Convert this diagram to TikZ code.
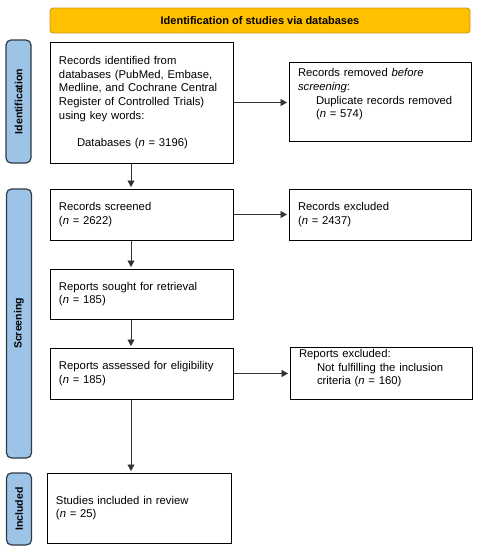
\documentclass[tikz,border=0pt]{standalone}
\usepackage{fontspec}
\setmainfont{Liberation Sans}
\usetikzlibrary{arrows.meta,positioning,calc}

\definecolor{headgold}{HTML}{FFC000}
\definecolor{headedge}{HTML}{C8961E}
\definecolor{phaseblue}{HTML}{9DC3E6}
\definecolor{phaseedge}{HTML}{2E3A46}

\begin{document}
\begin{tikzpicture}[
    x=1pt, y=-1pt,
    >={Triangle[length=6.5pt,width=7pt]},
    header/.style={rectangle, rounded corners=3pt, draw=headedge, fill=headgold, line width=0.8pt, minimum width=420pt, minimum height=25pt, inner sep=0pt, font=\fontsize{11}{13}\selectfont\bfseries},
    phase/.style={rectangle, rounded corners=5pt, draw=phaseedge, fill=phaseblue, line width=1.2pt, minimum height=25pt, inner sep=0pt, rotate=90, font=\fontsize{10.5}{12}\selectfont\bfseries},
    record/.style={rectangle, draw, line width=1pt, minimum width=183pt, text width=165pt, inner sep=0pt, align=left, font=\fontsize{11.3}{13.7}\selectfont},
    flow/.style={->, draw=black!80, line width=0.7pt, shorten >=1.5pt}
]
\useasboundingbox (0,0) rectangle (479,550);

% Header
\node[header] (head) at (260,20.5) {Identification of studies via databases};

% Phase labels
\node[phase, minimum width=123pt] (ident) at (18.5,101.5) {Identification};
\node[phase, minimum width=269pt] (screen) at (19,323.5) {Screening};
\node[phase, minimum width=72pt] (incl) at (19,509) {Included};

% Records
\node[record, minimum height=121pt] (found) at (141.5,102.5) {Records identified from\\
databases (PubMed, Embase,\\
Medline, and Cochrane Central\\
Register of Controlled Trials)\\
using key words:\\[13.7pt]
\hspace*{18pt}Databases (\textit{n} = 3196)};
\node[record, minimum width=182pt, text width=164pt, minimum height=79pt] (removed) at (380,101.5) {Records removed \textit{before}\\
\textit{screening}:\\
\hspace*{18pt}Duplicate records removed\\
\hspace*{18pt}(\textit{n} = 574)\\[3pt]~};
\node[record, minimum height=51pt] (screened) at (141.5,214.5) {Records screened\\(\textit{n} = 2622)};
\node[record, minimum width=182pt, text width=164pt, minimum height=51pt] (excluded) at (380,214.5) {Records excluded\\(\textit{n} = 2437)};
\node[record, minimum height=50pt] (sought) at (141.5,294) {Reports sought for retrieval\\(\textit{n} = 185)};
\node[record, minimum height=51pt] (assessed) at (141.5,373.5) {Reports assessed for eligibility\\(\textit{n} = 185)};
\node[record, minimum width=182pt, text width=164pt, minimum height=52pt] (rejected) at (381,373) {Reports excluded:\\
\hspace*{18pt}Not fulfilling the inclusion\\
\hspace*{18pt}criteria (\textit{n} = 160)\\[-2pt]~};
\node[record, minimum width=184pt, text width=166pt, minimum height=70pt] (studies) at (139,508) {Studies included in review\\(\textit{n} = 25)};

% Flow
\coordinate (spine) at (131,0);
\draw[flow] (found.east) -- (found.east -| removed.west);
\draw[flow] (found.south -| spine) -- (screened.north -| spine);
\draw[flow] (screened.east) -- (screened.east -| excluded.west);
\draw[flow] (screened.south -| spine) -- (sought.north -| spine);
\draw[flow] (sought.south -| spine) -- (assessed.north -| spine);
\draw[flow] (assessed.east) -- (assessed.east -| rejected.west);
\draw[flow] (assessed.south -| spine) -- (studies.north -| spine);

\end{tikzpicture}
\end{document}
